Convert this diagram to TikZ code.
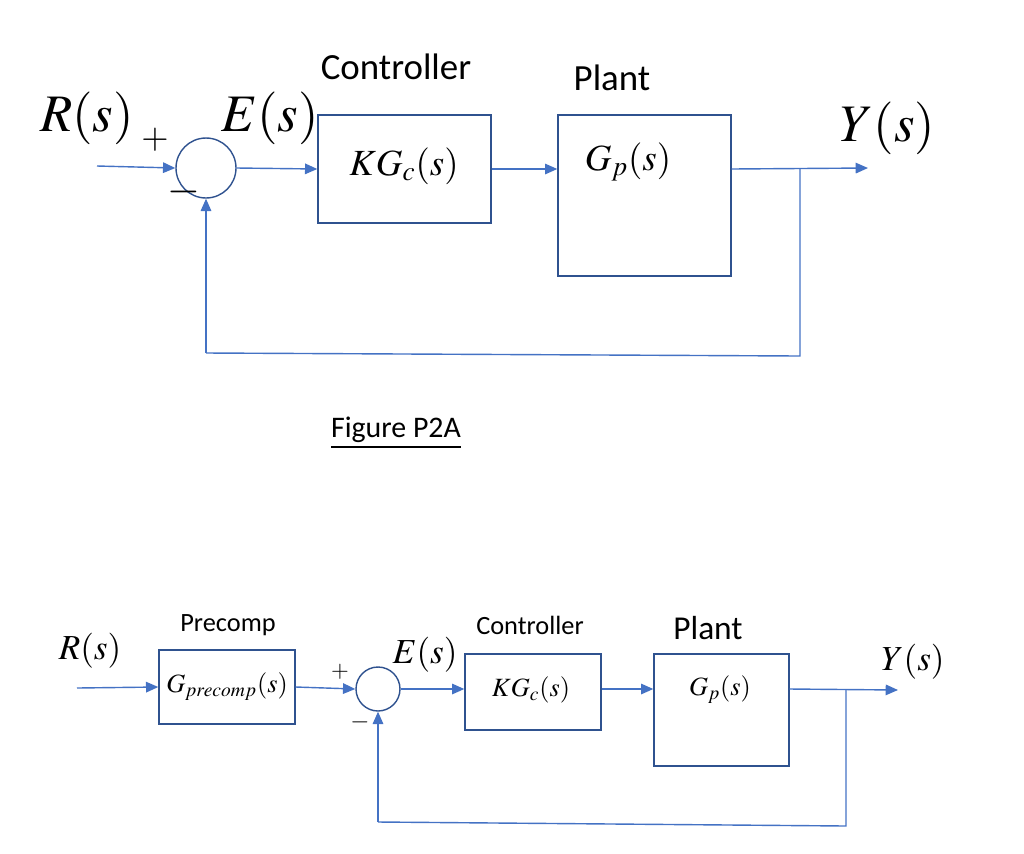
\documentclass[tikz,border=0pt]{standalone}
\usepackage{mathptmx}
\usepackage[no-math]{fontspec}
\setmainfont{Carlito}
\usetikzlibrary{arrows.meta,positioning}
\definecolor{lineblue}{RGB}{68,114,196}
\definecolor{boxblue}{RGB}{47,82,143}
\tikzset{
	block/.style = {draw=boxblue, thick, rectangle, inner sep=0pt},
	sum/.style = {draw=boxblue, thick, circle, inner sep=0pt},
	sig/.style = {lineblue, thick, -{Triangle[length=7pt,width=6pt]}},
	wire/.style = {lineblue, thick},
	lbl/.style = {inner sep=0pt}
}
\begin{document}
\begin{tikzpicture}[x=0.02cm,y=-0.02cm]
	\useasboundingbox (0,0) rectangle (1024,853);
	% upper loop
	\node[sum, minimum size=1.2cm] (sumA) at (206,168) {};
	\node[block, minimum width=3.46cm, minimum height=2.16cm] (ctrlA) at (404.5,169) {};
	\node[block, minimum width=3.46cm, minimum height=3.22cm] (plantA) at (644.5,195.5) {};
	\node[lbl] at (404,166) {\fontsize{21}{21}\selectfont $KG_c(s)$};
	\node[lbl] at (628,162) {\fontsize{21}{21}\selectfont $G_p(s)$};
	\node[lbl] at (396,67) {\fontsize{21}{21}\selectfont Controller};
	\node[lbl] at (612,78) {\fontsize{21}{21}\selectfont Plant};
	\node[lbl] at (87,118) {\fontsize{30}{30}\selectfont $R(s)$};
	\node[lbl] at (270,118) {\fontsize{30}{30}\selectfont $E(s)$};
	\node[lbl] at (888,128) {\fontsize{30}{30}\selectfont $Y(s)$};
	\node[lbl] at (155,140) {\fontsize{20}{20}\selectfont $+$};
	\node[lbl] at (184,192) {\fontsize{24}{24}\selectfont $-$};
	\coordinate (inA) at (97,166);
	\coordinate (outA) at (868,168);
	\coordinate (tapA) at (800,168);
	\coordinate (cornA) at (800,356);
	\coordinate (backA) at (206,353);
	\draw[sig] (inA) -- (sumA.west);
	\draw[sig] (sumA.east) -- (ctrlA.west);
	\draw[sig] (ctrlA.east) -- (ctrlA.east -| plantA.west);
	\draw[sig] (ctrlA.east -| plantA.east) -- (outA);
	\draw[wire] (tapA) -- (cornA) -- (backA);
	\draw[sig] (backA) -- (sumA.south);
	\node[lbl] at (396,433) {\fontsize{17}{17}\selectfont \underline{Figure P2A}};
	% lower loop
	\node[block, minimum width=2.72cm, minimum height=1.48cm] (preB) at (227,687) {};
	\node[sum, minimum size=0.88cm] (sumB) at (378,689) {};
	\node[block, minimum width=2.72cm, minimum height=1.52cm] (ctrlB) at (533,692) {};
	\node[block, minimum width=2.7cm, minimum height=2.24cm] (plantB) at (721.5,710) {};
	\node[lbl] at (227,687) {\fontsize{15}{15}\selectfont $G_{precomp}(s)$};
	\node[lbl] at (531,690) {\fontsize{15}{15}\selectfont $KG_c(s)$};
	\node[lbl] at (720,690) {\fontsize{15}{15}\selectfont $G_p(s)$};
	\node[lbl] at (228,625) {\fontsize{15}{15}\selectfont Precomp};
	\node[lbl] at (530,625) {\fontsize{15}{15}\selectfont Controller};
	\node[lbl] at (708,628) {\fontsize{19}{19}\selectfont Plant};
	\node[lbl] at (90,651) {\fontsize{20}{20}\selectfont $R(s)$};
	\node[lbl] at (425,655) {\fontsize{20}{20}\selectfont $E(s)$};
	\node[lbl] at (913,662) {\fontsize{20}{20}\selectfont $Y(s)$};
	\node[lbl] at (340,672) {\fontsize{13}{13}\selectfont $+$};
	\node[lbl] at (360,722) {\fontsize{14}{14}\selectfont $-$};
	\coordinate (inB) at (77,688);
	\coordinate (outB) at (898,690);
	\coordinate (tapB) at (846,689);
	\coordinate (cornB) at (846,826);
	\coordinate (backB) at (378,822);
	\draw[sig] (inB) -- (preB.west);
	\draw[sig] (preB.east) -- (sumB.west);
	\draw[sig] (sumB.east) -- (sumB.east -| ctrlB.west);
	\draw[sig] (sumB.east -| ctrlB.east) -- (sumB.east -| plantB.west);
	\draw[sig] (sumB.east -| plantB.east) -- (outB);
	\draw[wire] (tapB) -- (cornB) -- (backB);
	\draw[sig] (backB) -- (sumB.south);
\end{tikzpicture}
\end{document}
